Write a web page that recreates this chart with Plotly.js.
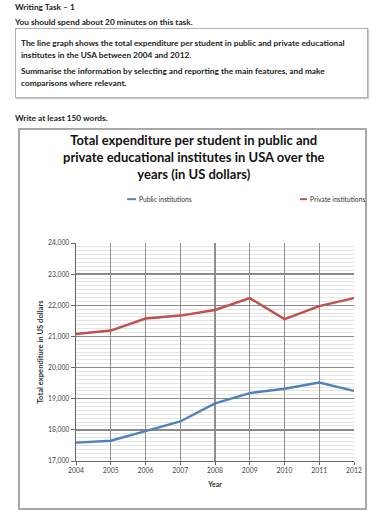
<!DOCTYPE html>
<html>
<head>
<meta charset="utf-8">
<script src="https://cdn.plot.ly/plotly-3.0.1.min.js"></script>
<style>
  html, body { margin: 0; padding: 0; background: #fff; width: 388px; height: 512px; overflow: hidden; }
  body { position: relative; font-family: Lato, "Open Sans", sans-serif; font-weight: bold; color: #222; font-size: 8.3px; }
  .t { position: absolute; white-space: nowrap; line-height: 1; }
  #task { position: absolute; left: 15px; top: 28px; width: 351px; height: 68px; border: 1px solid #b0b0b0; box-shadow: 1px 1px 1px #ccc; }
  #box { position: absolute; left: 18px; top: 128px; width: 345px; height: 378px; border: 2px solid #a8a8a8; overflow: hidden; }
  #chart { width: 345px; height: 378px; }
</style>
</head>
<body>
<div class="t" style="left:15px;top:3px;">Writing Task – 1</div>
<div class="t" style="left:15px;top:18px;">You should spend about 20 minutes on this task.</div>
<div id="task"></div>
<div class="t" style="left:21px;top:39px;">The line graph shows the total expenditure per student in public and private educational</div>
<div class="t" style="left:21px;top:51px;">institutes in the USA between 2004 and 2012.</div>
<div class="t" style="left:21px;top:67px;">Summarise the information by selecting and reporting the main features, and make</div>
<div class="t" style="left:21px;top:79px;">comparisons where relevant.</div>
<div class="t" style="left:15px;top:114px;">Write at least 150 words.</div>
<div id="box"><div id="chart"></div></div>
<script>
const years = [2004, 2005, 2006, 2007, 2008, 2009, 2010, 2011, 2012];
const publicValues = [17590, 17650, 17960, 18270, 18850, 19180, 19320, 19520, 19250];
const privateValues = [21080, 21190, 21575, 21670, 21850, 22230, 21555, 21975, 22230];
const seriesNames = ["Public institutions", "Private institutions"];
const seriesColors = ["#4f81bd", "#c0504d"];
const chartTitle = "Total expenditure per student in public and<br>private educational institutes in USA over the<br>years (in US dollars)";
const xTitle = "Year";
const yTitle = "Total expenditure in US dollars";

const chartFont = "Lato, 'Open Sans', sans-serif";

const traces = [
  { x: years, y: publicValues, name: seriesNames[0], type: "scatter", mode: "lines",
    line: { color: seriesColors[0], width: 2.4 }, cliponaxis: false, showlegend: false },
  { x: years, y: privateValues, name: seriesNames[1], type: "scatter", mode: "lines",
    line: { color: seriesColors[1], width: 2.4 }, cliponaxis: false, showlegend: false }
];

// legend drawn as short line + label (paper coordinates)
const legendY = 1.201;
const legendItems = [
  { x0: 0.184, x1: 0.216, tx: 0.219 },
  { x0: 0.806, x1: 0.831, tx: 0.834 }
];
const shapes = legendItems.map((it, i) => ({
  type: "line", xref: "paper", yref: "paper", x0: it.x0, x1: it.x1, y0: legendY, y1: legendY,
  line: { color: seriesColors[i], width: 2 }
}));
const annotations = legendItems.map((it, i) => ({
  xref: "paper", yref: "paper", x: it.tx, y: legendY, xanchor: "left", yanchor: "middle",
  text: seriesNames[i], showarrow: false, font: { family: chartFont, size: 6.7, color: "#333" }
}));
annotations.push({
  xref: "paper", yref: "paper", x: 0.426, y: 1.393, xanchor: "center", yanchor: "middle",
  text: chartTitle, showarrow: false, align: "center",
  font: { family: chartFont, size: 13, color: "#111", weight: "bold" }
});

const layout = {
  width: 345, height: 378,
  margin: { l: 56, r: 11, t: 113, b: 47 },
  paper_bgcolor: "#fff", plot_bgcolor: "#fff",
  showlegend: false,
  xaxis: {
    range: [2004, 2012], dtick: 1, tick0: 2004, fixedrange: true,
    showgrid: true, gridcolor: "#8f8f8f", gridwidth: 1.3,
    showline: true, linecolor: "#666", linewidth: 1.3,
    ticks: "outside", ticklen: 3, tickcolor: "#666",
    tickfont: { family: chartFont, size: 6.8, color: "#444" },
    title: { text: xTitle, standoff: 8, font: { family: chartFont, size: 7, color: "#333", weight: "bold" } },
    zeroline: false
  },
  yaxis: {
    range: [17000, 24000], dtick: 1000, tick0: 17000, fixedrange: true,
    tickformat: ",",
    showgrid: true, gridcolor: "#8a8a8a", gridwidth: 1.3,
    minor: { dtick: 125, showgrid: true, gridcolor: "#e3e3e3", gridwidth: 1 },
    showline: true, linecolor: "#666", linewidth: 1.3,
    ticks: "outside", ticklen: 4, tickcolor: "#666",
    tickfont: { family: chartFont, size: 6.8, color: "#444" },
    title: { text: yTitle, standoff: 3, font: { family: chartFont, size: 7.6, color: "#333", weight: "bold" } },
    zeroline: false
  },
  shapes: shapes,
  annotations: annotations
};

Plotly.newPlot("chart", traces, layout, { displayModeBar: false, staticPlot: true });
</script>
</body>
</html>
